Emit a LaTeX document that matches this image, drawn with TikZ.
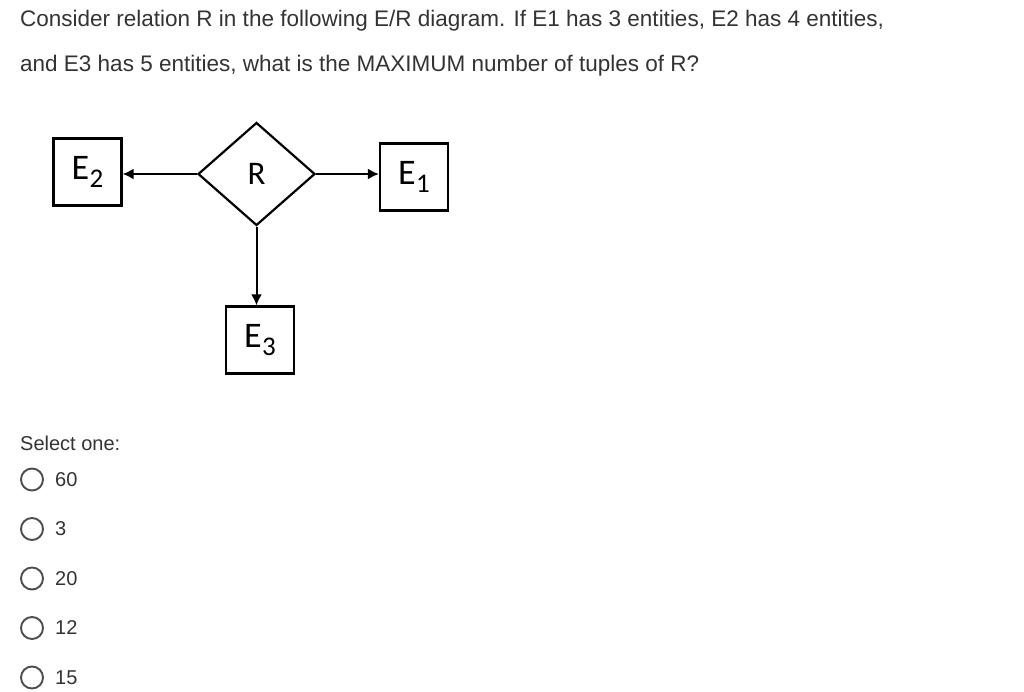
\documentclass[tikz,border=0pt]{standalone}
\usepackage{fontspec}
\setmainfont{Liberation Sans}
\newfontfamily\calib{Carlito}
\usetikzlibrary{shapes.geometric, arrows.meta}
\definecolor{txtgray}{HTML}{333333}
\definecolor{radiogray}{HTML}{4D4D4D}

\newcommand{\ent}[1]{{\calib\fontsize{36}{36}\selectfont E\kern0.5pt\raisebox{-8pt}{\fontsize{27}{27}\selectfont #1}}}

\begin{document}
\begin{tikzpicture}[x=1pt, y=-1pt,
    entity/.style   = {draw, line width=2.2pt, rectangle, minimum width=68pt, minimum height=67pt, inner sep=0pt},
    relation/.style = {draw, line width=2.2pt, diamond, minimum width=117pt, minimum height=103pt, inner sep=0pt,
                       font=\calib\fontsize{33}{33}\selectfont},
    edge/.style     = {draw, line width=2pt, -{Latex[length=11pt, width=11pt]}},
    question/.style = {anchor=base west, inner sep=0pt, text=txtgray, font=\fontsize{22.5}{24}\selectfont},
    option/.style   = {anchor=base west, inner sep=0pt, text=txtgray, font=\fontsize{20}{22}\selectfont},
    radio/.style    = {draw=radiogray, line width=1.9pt, circle, minimum size=22pt, inner sep=0pt},
  ]
  \useasboundingbox (0,0) rectangle (1024,692);

  % question
  \node[question] (q1) at (20,27) {Consider relation R in the following E/R diagram. If E1 has 3 entities, E2 has 4 entities,};
  \node[question] (q2) at (20,72) {and E3 has 5 entities, what is the MAXIMUM number of tuples of R?};

  % E/R diagram
  \node[relation] (r) at (256.5,174) {R};
  \node[entity] (e2) at (87.5,172) {\ent{2}};
  \node[entity] (e1) at (414,177) {\ent{1}};
  \node[entity] (e3) at (260,340) {\ent{3}};

  \draw[edge] (r.west) -- (r.west -| e2.east);
  \draw[edge] (r.east) -- (r.east -| e1.west);
  \draw[edge] (r.south) -- (r.south |- e3.north);

  % answers
  \node[option] (sel) at (20,450) {Select one:};
  \foreach \val [count=\i from 0] in {60,3,20,12,15} {
    \node[radio] (rb\i) at (32,{479.5+49.5*\i}) {};
    \node[option] (opt\i) at (55,{486+49.5*\i}) {\val};
  }
\end{tikzpicture}
\end{document}
